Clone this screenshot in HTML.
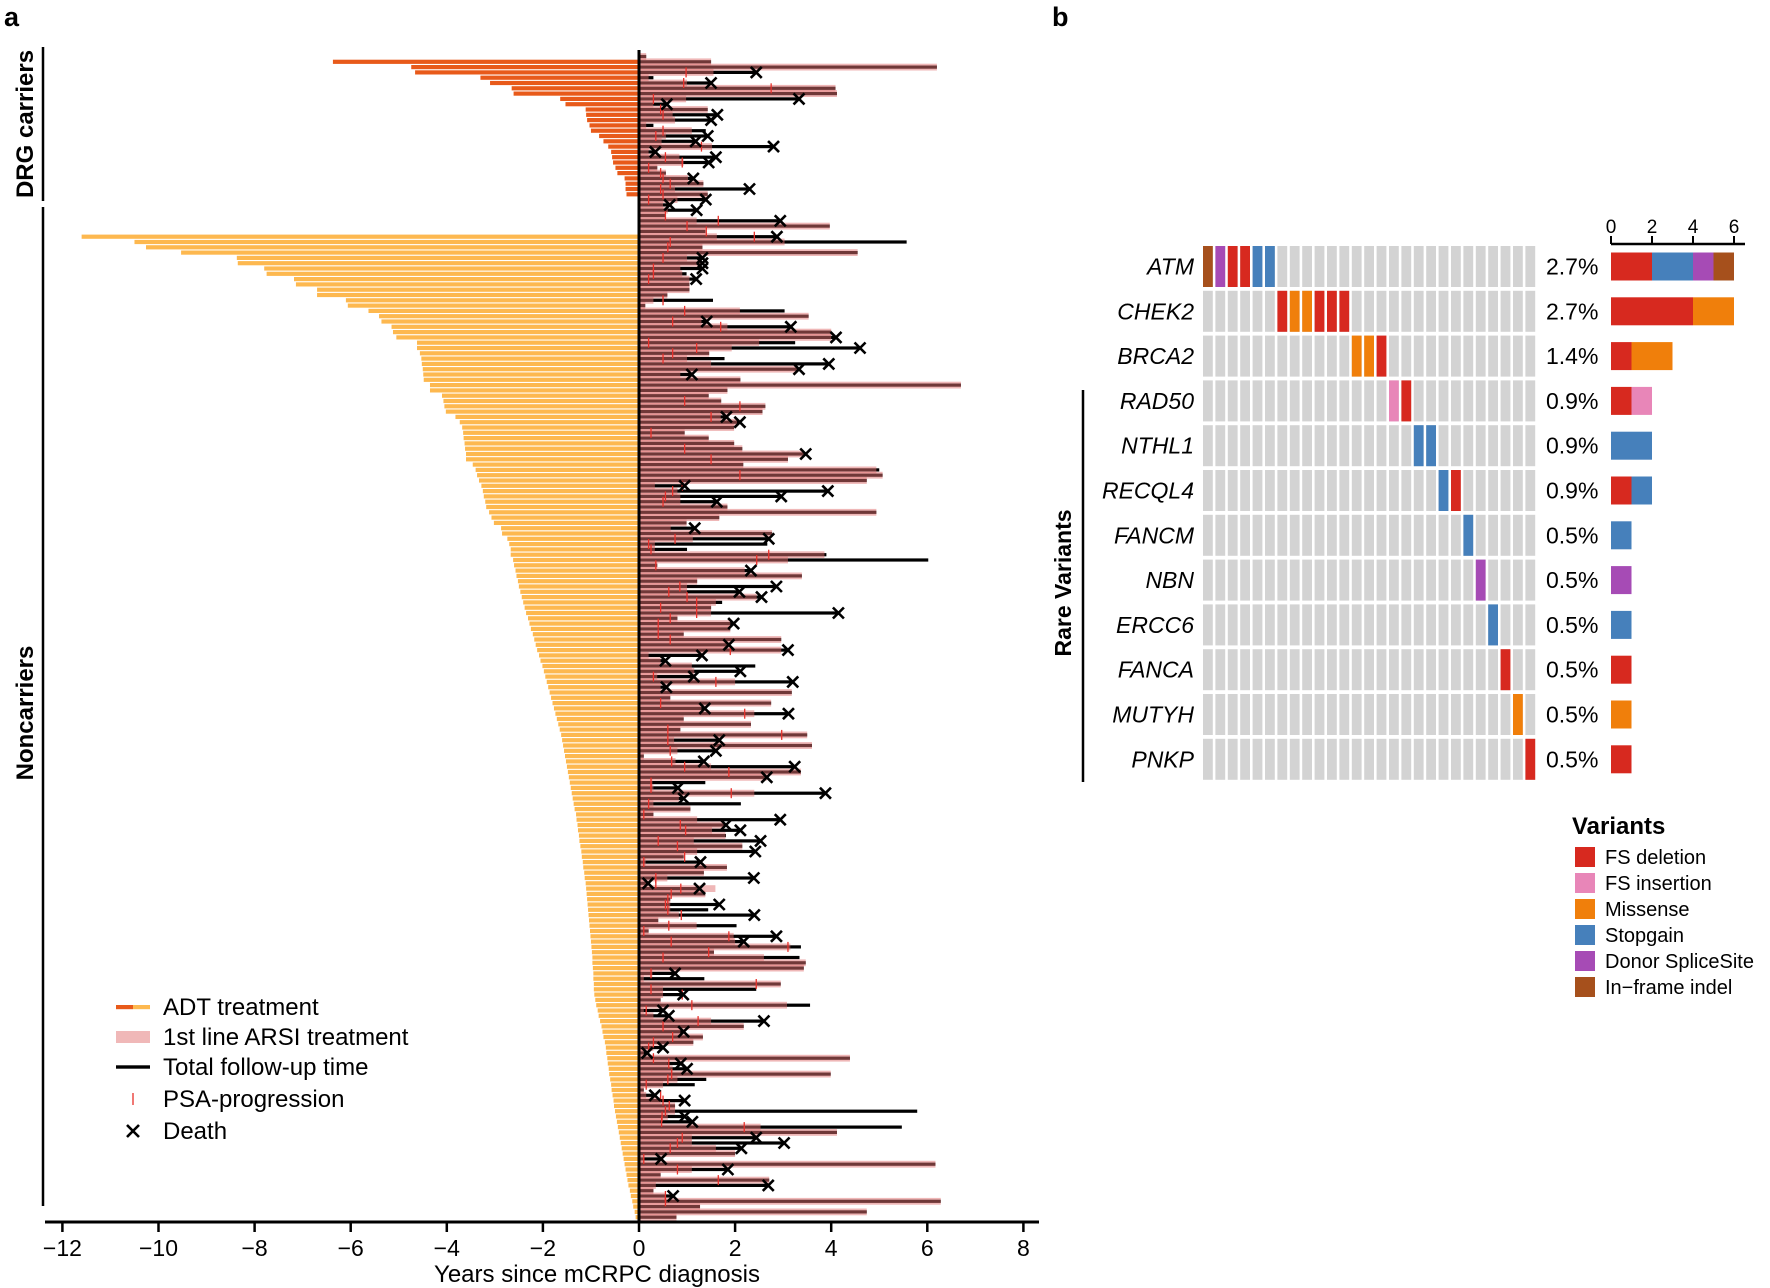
<!DOCTYPE html>
<html><head><meta charset="utf-8">
<style>
html,body{margin:0;padding:0;background:#fff;}
svg{display:block;font-family:"Liberation Sans",Arial,sans-serif;}
</style></head>
<body>
<svg id="chart" width="1770" height="1288" viewBox="0 0 1770 1288" xmlns="http://www.w3.org/2000/svg">
<text x="4" y="26" font-size="27" font-weight="bold">a</text>
<text x="1052" y="26" font-size="27" font-weight="bold">b</text>
<g id="panelA"></g>
<g id="panelB"></g>
</svg>
<script>
const adt = [0,
-6.37,-4.74,-4.66,-3.30,-3.10,-2.65,-2.61,-1.64,-1.53,-1.11,-1.10,-1.08,-1.03,-1.0,-0.83,-0.74,-0.64,-0.58,-0.56,-0.54,-0.49,-0.45,-0.30,-0.28,-0.28,-0.26,
0,0,0,0,0,0,0,
-11.6,-10.5,-10.26,-9.53,-8.37,-8.35,-7.8,-7.75,-7.18,-7.14,-6.7,-6.7,-6.1,-6.06,-5.63,-5.41,-5.36,-5.15,-5.12,-5.05,-4.62,-4.62,-4.56,-4.53,-4.52,-4.5,-4.49,-4.48,-4.35,-4.35,-4.1,-4.07,-4.05,-4.02,-3.82,-3.73,-3.68,-3.66,-3.65,-3.63,-3.62,-3.6,-3.6,-3.46,-3.4,-3.37,-3.33,-3.28,-3.25,-3.23,-3.2,-3.18,-3.12,-3.07,-3.02,-2.87,-2.85,-2.74,-2.7,-2.67,-2.67,
-2.62,-2.6,-2.57,-2.55,-2.52,-2.5,-2.47,-2.44,-2.41,-2.38,-2.35,-2.31,-2.28,-2.25,-2.21,-2.18,-2.15,-2.12,-2.08,-2.05,-2.01,-1.98,-1.95,-1.92,-1.89,-1.86,-1.83,-1.8,-1.77,-1.74,-1.71,-1.68,-1.65,-1.62,
-1.6,-1.58,-1.56,-1.54,-1.52,-1.5,-1.48,-1.46,-1.44,-1.42,-1.4,-1.38,-1.36,-1.34,-1.31,
-1.3,-1.28,-1.27,-1.25,-1.24,-1.22,-1.2,-1.19,-1.17,-1.16,-1.14,-1.13,-1.11,
-1.1,-1.09,-1.08,-1.07,-1.06,-1.05,-1.04,-1.03,-1.02,-1.01,-1.0,-0.99,-0.98,-0.97,-0.97,-0.96,-0.95,-0.95,-0.94,-0.94,-0.93,
-0.91,-0.89,-0.86,-0.84,-0.81,-0.78,-0.76,-0.74,-0.71,-0.69,
-0.68,-0.66,-0.65,-0.63,-0.62,-0.6,-0.58,-0.57,-0.55,-0.53,-0.52,-0.5,-0.48,
-0.46,-0.44,-0.42,-0.4,-0.38,-0.36,-0.34,-0.32,-0.3,-0.28,-0.26,-0.24,
-0.22,-0.19,-0.17,-0.14,-0.12,-0.09,-0.07];
const arsi = [0.15,1.5,6.2,1.55,0.2,1.0,4.09,4.12,0.98,0.3,1.43,0.7,0.75,0.15,1.1,0.56,0.47,1.52,0.2,0.84,
0.93,0.38,0.56,1.02,1.34,0.75,1.43,0.8,0.5,0.6,0.56,1.2,3.97,1.38,1.62,3.03,1.32,4.55,1.0,1.3,
0.86,0.9,1.05,1.05,1.05,0.59,0.3,0.13,2.1,3.53,1.3,1.84,4.0,4.0,2.5,1.93,1.46,1.0,1.5,3.29,
0.86,2.11,6.7,1.84,1.45,1.71,2.63,2.57,1.7,2.04,1.98,0.95,1.45,1.98,2.15,3.43,3.1,2.17,4.94,5.07,
4.74,0.33,0.8,0.86,0.86,1.84,4.94,1.67,0.99,0.66,2.77,1.12,0.33,0.33,3.86,3.1,0.38,2.2,3.39,1.21,
1.0,1.0,2.45,1.6,1.5,1.5,0.8,1.9,1.9,0.93,2.96,1.85,2.96,0.2,0.45,1.1,1.15,0.38,2.0,0.45,
3.18,0.65,2.75,1.3,2.4,0.93,2.33,0.86,3.5,0.73,3.6,0.8,0.1,0.76,1.5,3.37,2.66,0.28,0.3,2.4,
0.83,0.3,1.07,0.3,1.21,1.76,1.52,1.8,1.14,2.15,1.21,0.93,0.14,1.83,1.35,0.59,0.15,1.59,1.38,0.65,
0.65,0.65,0.83,0.4,1.2,0.2,1.97,2.0,3.15,1.56,2.6,3.47,3.43,0.28,0.1,2.95,0.5,0.5,0.45,3.08,
0.1,0.3,1.5,2.18,0.86,1.33,1.13,0.3,0.1,4.39,0.6,0.7,3.99,0.8,0.5,0.1,0.15,0.45,0.75,0.75,
0.6,0.45,2.53,4.12,1.1,1.1,1.6,2.0,0.1,6.17,1.1,0.45,2.71,0.35,0.3,0.55,6.28,1.27,4.74,0.78];
const followUp = [0.15,1.5,6.2,2.44,0.3,1.5,4.09,4.12,3.33,0.58,1.43,1.63,1.5,0.3,1.39,1.43,1.18,2.8,0.34,1.6,
1.45,0.38,0.56,1.13,1.34,2.3,1.43,1.39,0.64,1.2,0.56,2.94,3.97,1.38,2.87,5.57,1.32,4.55,1.32,1.32,
1.32,0.99,1.19,1.05,1.05,0.59,1.54,0.13,3.03,3.53,1.41,3.16,4.0,4.1,3.25,4.6,1.46,1.78,3.95,3.33,
1.1,2.11,6.7,1.84,1.45,1.71,2.63,2.57,1.82,2.1,1.98,0.95,1.45,1.98,2.15,3.47,3.1,2.17,5.0,5.07,
4.74,0.95,3.93,2.96,1.62,1.84,4.94,1.67,0.99,1.16,2.77,2.7,2.67,1.0,3.9,6.02,0.38,2.33,3.39,1.21,
2.86,2.09,2.55,1.73,1.5,4.15,0.8,1.97,1.9,0.93,2.96,1.87,3.1,1.31,0.55,2.42,2.11,1.14,3.2,0.57,
3.18,0.65,2.75,1.37,3.11,0.93,2.33,0.86,3.5,1.67,3.6,1.6,0.1,1.35,3.24,3.37,2.66,1.38,0.81,3.88,
0.93,2.12,1.07,0.3,2.94,1.81,2.11,1.81,2.53,2.15,2.42,0.93,1.28,1.83,1.35,2.39,0.19,1.26,1.38,0.65,
1.67,1.44,2.4,0.4,2.03,0.2,2.86,2.18,3.37,1.56,3.34,3.47,3.43,0.75,1.36,2.95,2.44,0.92,0.45,3.56,
0.5,0.62,2.6,2.18,0.93,1.33,1.13,0.5,0.17,4.39,0.87,1.0,3.99,1.4,1.16,0.1,0.33,0.95,0.75,5.79,
0.95,1.11,5.47,4.12,2.44,3.02,2.13,2.0,0.46,6.17,1.85,0.45,2.71,2.69,0.3,0.71,6.28,1.27,4.74,0.78];
const death = [0,0,0,1,0,1,0,0,1,1,0,1,1,0,0,1,1,1,1,1,
1,0,0,1,0,1,0,1,1,1,0,1,0,0,1,0,0,0,1,1,
1,0,1,0,0,0,0,0,0,0,1,1,0,1,0,1,0,0,1,1,
1,0,0,0,0,0,0,0,1,1,0,0,0,0,0,1,0,0,0,0,
0,1,1,1,1,0,0,0,0,1,0,1,0,0,0,0,0,1,0,0,
1,1,1,0,0,1,0,1,0,0,0,1,1,1,1,0,1,1,1,1,
0,0,0,1,1,0,0,0,0,1,0,1,0,1,1,0,1,0,1,1,
1,0,0,0,1,1,1,0,1,0,1,0,1,0,0,1,1,1,0,0,
1,0,1,0,0,0,1,1,0,0,0,0,0,1,0,0,0,1,0,0,
1,1,1,0,1,0,0,1,1,0,1,1,0,0,0,0,1,1,0,0,
1,1,0,0,1,1,1,0,1,0,1,0,0,1,0,1,0,0,0,0];
const psa = [0,0,0,0.98,0,0.93,2.75,0,0.3,0,0.45,0.5,0,0,0.5,0.35,0,1.3,0,0.55,
0.9,0.2,0.45,0.5,0.65,0.45,0.5,0.2,0,0,0.55,1.65,1.0,1.4,2.4,0.65,0.6,0,0.5,0,
0.3,0.3,0.2,0,0,0,0.5,0,0.95,0,0.7,1.7,0,0,0.2,1.2,0.7,0.5,0,0,
0,0,0,0,0,0.95,2.1,0,1.5,0,0,0.25,0,0,0.95,0,1.5,0,0,2.1,
0,0.9,0.7,0.55,0.5,0,0,0,0,0,0,0.75,0.2,0.25,2.7,2.45,0.35,0,0,0,
0.85,0.62,1.0,1.2,0.45,1.2,0.65,0.4,0,0.4,0.65,0,1.9,0,0,0,0,0.3,1.6,0,
0,0,0.45,0,2.2,0,0,0.6,2.97,0.6,0,0.65,0,0.68,0.95,1.87,0,0.25,0.25,1.92,
0,0.2,0,0.1,0,0.86,0.97,0,0.4,0.8,0,0.95,0.1,0,0,0.35,0.35,0.87,0.67,0.6,
0.55,0.6,0.88,0,0.62,0.1,1.87,0.67,3.1,1.45,0.5,0,0,0.25,0,2.44,0.25,0.9,0,1.1,
0.15,0,1.23,0.5,0,0.7,0.3,0.2,0,0.3,0.62,0,0.68,0.6,0.15,0,0.45,0.5,0.63,0.55,
0.48,0.47,2.19,0,0.9,0.8,0.65,0,0.1,0,0.8,0,1.65,0,0,0.55,0.55,0,0,0];
const carrierCount = 27;
const xTicks = [-12,-10,-8,-6,-4,-2,0,2,4,6,8];
const xTickLabels = ["\u221212","\u221210","\u22128","\u22126","\u22124","\u22122","0","2","4","6","8"];

// panel b data
const genes = ["ATM","CHEK2","BRCA2","RAD50","NTHL1","RECQL4","FANCM","NBN","ERCC6","FANCA","MUTYH","PNKP"];
const pctLabels = ["2.7%","2.7%","1.4%","0.9%","0.9%","0.9%","0.5%","0.5%","0.5%","0.5%","0.5%","0.5%"];
const variantTypes = ["FS deletion","FS insertion","Missense","Stopgain","Donor SpliceSite","In\u2212frame indel"];
const geneVariants = [[5,4,0,0,3,3],[0,2,2,0,0,0],[2,2,0],[1,0],[3,3],[3,0],[3],[4],[3],[0],[2],[0]];
const barCounts = [[[0,2],[3,2],[4,1],[5,1]],[[0,4],[2,2]],[[0,1],[2,2]],[[0,1],[1,1]],[[3,2]],[[0,1],[3,1]],[[3,1]],[[4,1]],[[3,1]],[[0,1]],[[2,1]],[[0,1]]];
const barTicks = [0,2,4,6];
const nColumns = 27;

const NS = "http://www.w3.org/2000/svg";
function mk(tag, attrs, parent){const e=document.createElementNS(NS,tag);for(const k in attrs)e.setAttribute(k,attrs[k]);parent.appendChild(e);return e;}

// ---------- Panel A ----------
const A = document.getElementById('panelA');
const X0 = 639, UNIT = 48.05;
function xs(v){return X0 + v*UNIT;}
const Y0 = 56.5, PITCH = 5.3;
function ys(k){return Y0 + PITCH*k;}
const N = adt.length;

for(let k=0;k<N;k++){
  if(adt[k] < 0){
    const r = mk('rect',{x:xs(adt[k]),y:ys(k)-2.1,width:xs(0)-xs(adt[k]),height:4.2,fill:k<carrierCount?'#e85a1a':'#fdb84f'},A);
    
    
  }
}
for(let k=0;k<N;k++){
  const f = followUp[k];
  const l = mk('rect',{x:xs(0),y:ys(k)-1.6,width:Math.max(0,xs(f)-xs(0)),height:3.2,fill:'#000'},A);
  
  
}
for(let k=0;k<N;k++){
  const p = mk('rect',{x:xs(0),y:ys(k)-3.4,width:Math.max(0,xs(arsi[k])-xs(0)),height:6.8,fill:'#e07070','fill-opacity':0.5},A);
  
  
}
for(let k=0;k<N;k++){
  if(psa[k]>0){
    const t = mk('line',{x1:xs(psa[k]),x2:xs(psa[k]),y1:ys(k)-5,y2:ys(k)+5,stroke:'#e8302a','stroke-width':1.3},A);
    
    
  }
}
for(let k=0;k<N;k++){
  if(death[k]){
    const cx=xs(followUp[k]), cy=ys(k), s=5.5;
    const d = mk('path',{d:`M${cx-s},${cy-s}L${cx+s},${cy+s}M${cx-s},${cy+s}L${cx+s},${cy-s}`,stroke:'#000','stroke-width':2.6,fill:'none'},A);
    
    
  }
}
const zl = mk('line',{x1:X0,x2:X0,y1:50,y2:1222,stroke:'#000','stroke-width':3},A);


const ax = mk('line',{x1:45,x2:1039,y1:1222,y2:1222,stroke:'#000','stroke-width':3},A);


xTicks.forEach((t,i)=>{
  const tk = mk('line',{x1:xs(t),x2:xs(t),y1:1222,y2:1232,stroke:'#000','stroke-width':2.5},A);
  
  
  const tl = mk('text',{x:xs(t),y:1256,'font-size':23,'text-anchor':'middle'},A);
  tl.textContent = xTickLabels[i];
  
  
});
const xt = mk('text',{x:597,y:1282,'font-size':24,'text-anchor':'middle'},A);
xt.textContent='Years since mCRPC diagnosis';


const b1 = mk('line',{x1:43,x2:43,y1:47,y2:201,stroke:'#000','stroke-width':2.5},A);


const b2 = mk('line',{x1:43,x2:43,y1:207,y2:1206,stroke:'#000','stroke-width':2.5},A);


const g1 = mk('text',{x:0,y:0,'font-size':24,'font-weight':'bold','text-anchor':'middle',transform:'translate(33,124) rotate(-90)'},A);
g1.textContent='DRG carriers';


const g2 = mk('text',{x:0,y:0,'font-size':24,'font-weight':'bold','text-anchor':'middle',transform:'translate(33,713) rotate(-90)'},A);
g2.textContent='Noncarriers';


const legY=[1007,1037,1067,1099,1131];
const legT=['ADT treatment','1st line ARSI treatment','Total follow-up time','PSA-progression','Death'];
const lg = mk('g',{},A);


mk('rect',{x:116,y:legY[0]-2,width:17,height:4.2,fill:'#e85a1a'},lg);
mk('rect',{x:133,y:legY[0]-2,width:17,height:4.2,fill:'#fdb84f'},lg);
mk('rect',{x:116,y:legY[1]-6,width:34,height:12,fill:'#f0b8b8'},lg);
mk('rect',{x:116,y:legY[2]-1.7,width:34,height:3.4,fill:'#000'},lg);
mk('line',{x1:133,x2:133,y1:legY[3]-6,y2:legY[3]+6,stroke:'#e8302a','stroke-width':1.3},lg);
mk('path',{d:`M${127},${legY[4]-6}L${139},${legY[4]+6}M${127},${legY[4]+6}L${139},${legY[4]-6}`,stroke:'#000','stroke-width':2.6},lg);
legT.forEach((t,i)=>{
  const e = mk('text',{x:163,y:legY[i]+8,'font-size':24},lg);
  e.textContent=t;
  
  
});

// ---------- Panel B ----------
const B = document.getElementById('panelB');
const colors = ['#d7291f','#e886b8','#f07f0b','#4680bb','#a64bb5','#a6501c'];
const GX0=1203, CW=12.4, RY0=246, RP=44.8, RH=41;
const BX0=1611, BU=20.5;
function colX(c){return GX0 + c*CW;}
function rowY(r){return RY0 + r*RP;}
let col=0;
genes.forEach((g,r)=>{
  for(let c=0;c<nColumns;c++){
    const cell = mk('rect',{x:colX(c),y:rowY(r),width:CW-2.6,height:RH,fill:'#d3d3d3'},B);
    
    
  }
  geneVariants[r].forEach(v=>{
    const cell = mk('rect',{x:colX(col),y:rowY(r),width:CW-2.6,height:RH,fill:colors[v]},B);
    
    
    col++;
  });
  const gl = mk('text',{x:1194,y:rowY(r)+RH/2+8,'font-size':23,'font-style':'italic','text-anchor':'end'},B);
  gl.textContent=g;
  
  
  const pl = mk('text',{x:1546,y:rowY(r)+RH/2+8,'font-size':23},B);
  pl.textContent=pctLabels[r];
  
  
  let acc=0;
  barCounts[r].forEach(([t,n])=>{
    const br = mk('rect',{x:BX0+acc*BU,y:rowY(r)+RH/2-14,width:n*BU,height:28,fill:colors[t]},B);
    
    
    acc+=n;
  });
});
const bax = mk('line',{x1:BX0,x2:1745,y1:244,y2:244,stroke:'#000','stroke-width':2.5},B);


barTicks.forEach(t=>{
  const x=BX0+t*BU;
  mk('line',{x1:x,x2:x,y1:236,y2:244,stroke:'#000','stroke-width':2},B);
  const tl=mk('text',{x:x,y:233,'font-size':19,'text-anchor':'middle'},B);
  tl.textContent=String(t);
  
  
});
const rb = mk('line',{x1:1083,x2:1083,y1:390,y2:782,stroke:'#000','stroke-width':2.5},B);


const rt = mk('text',{x:0,y:0,'font-size':23,'font-weight':'bold','text-anchor':'middle',transform:'translate(1071,583) rotate(-90)'},B);
rt.textContent='Rare Variants';


const vt = mk('text',{x:1572,y:834,'font-size':24,'font-weight':'bold'},B);
vt.textContent='Variants';


variantTypes.forEach((t,i)=>{
  const y=847+i*26;
  mk('rect',{x:1575,y:y,width:20,height:20,fill:colors[i]},B);
  const e=mk('text',{x:1605,y:y+17,'font-size':20},B);
  e.textContent=t;
  
  
});
</script>
</body></html>
